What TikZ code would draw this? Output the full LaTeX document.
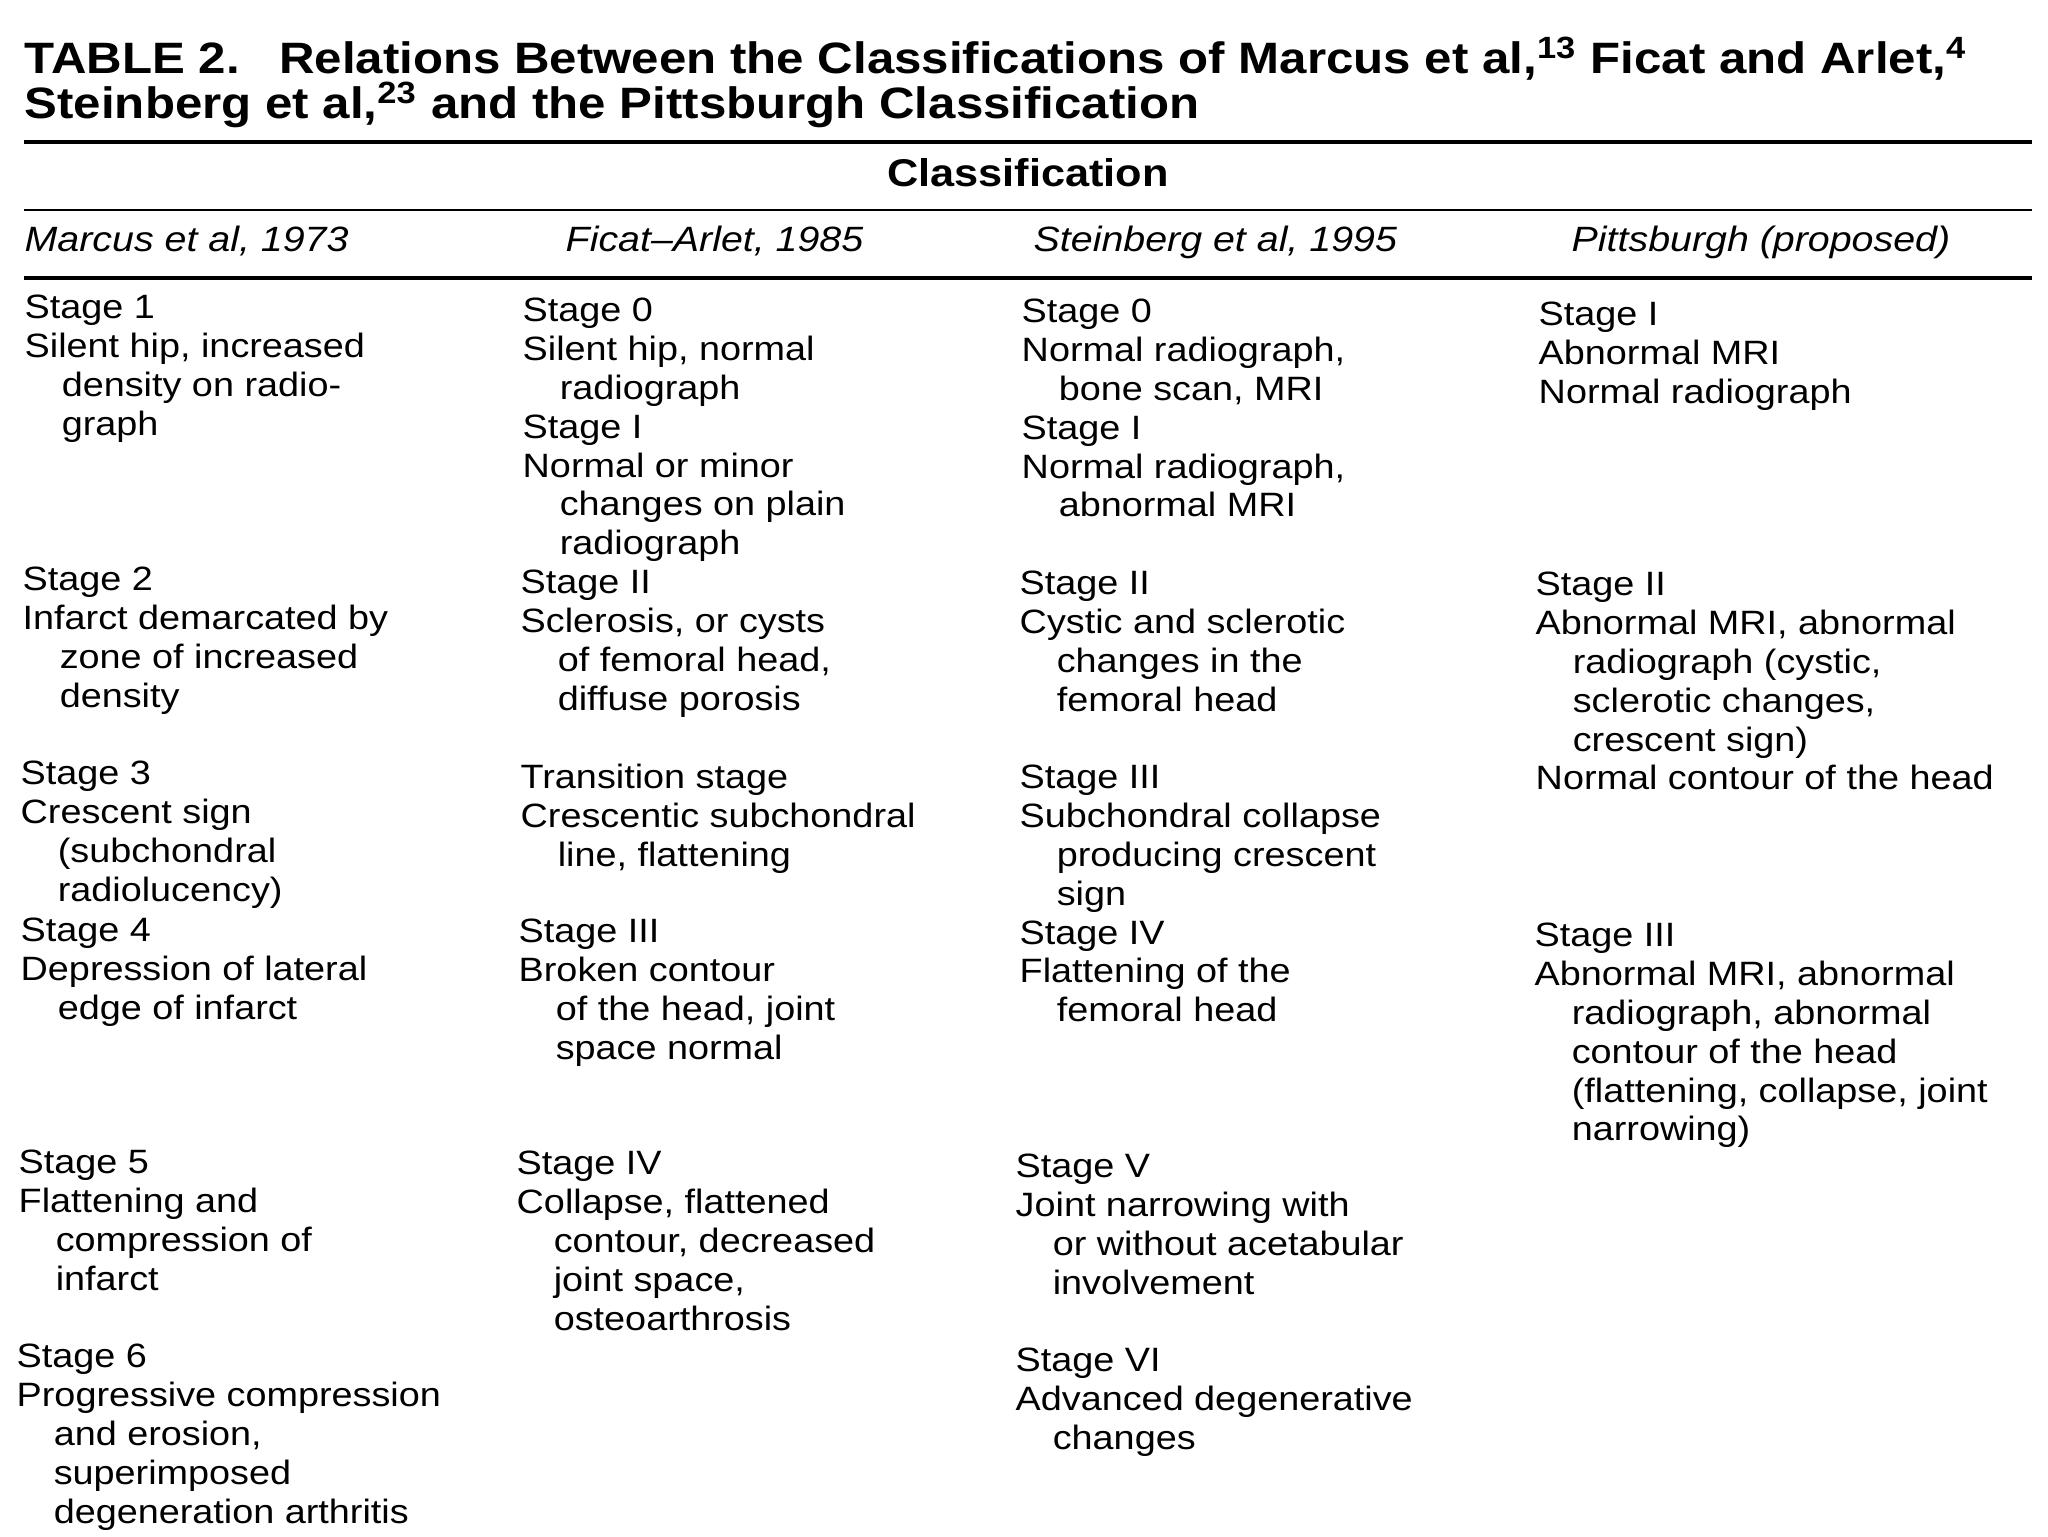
\documentclass[tikz,border=0pt]{standalone}
\usepackage{fontspec}
\setmainfont{Liberation Sans}[FakeStretch=1.12]
\begin{document}
\begin{tikzpicture}[x=0.1mm,y=-0.1mm,
  cell/.style={anchor=north west,inner sep=0pt,align=left,font=\fontsize{9.6pt}{11.05pt}\selectfont,yshift=2.55mm},
  hd/.style={anchor=base west,inner sep=0pt,font=\fontsize{10pt}{12pt}\selectfont\itshape},
  ttl/.style={anchor=north west,inner sep=0pt,align=left,font=\fontsize{12.5pt}{12.9pt}\selectfont\bfseries,yshift=3.2mm}]
\def\I{\hspace*{1.1em}}
\useasboundingbox (0,0) rectangle (2048,1536);
\node[ttl] (title) at (24,68) {TABLE 2.\hspace{0.9em}Relations Between the Classifications of Marcus et al,\textsuperscript{13} Ficat and Arlet,\textsuperscript{4}\\Steinberg et al,\textsuperscript{23} and the Pittsburgh Classification};
\draw[line width=1.4pt] (24,142) -- (2032,142);
\node[hd,font=\fontsize{11pt}{12.8pt}\selectfont\bfseries,anchor=base] (cls) at (1028,186) {Classification};
\draw[line width=0.6pt] (24,210) -- (2032,210);
\node[hd] (h1) at (24,251) {Marcus et al, 1973};
\node[hd] (h2) at (565,251) {Ficat--Arlet, 1985};
\node[hd] (h3) at (1033,251) {Steinberg et al, 1995};
\node[hd] (h4) at (1571,251) {Pittsburgh (proposed)};
\draw[line width=1.4pt] (24,278) -- (2032,278);
% column 1
\node[cell] (a1) at (24,320) {Stage 1\\Silent hip, increased\\\I density on radio-\\\I graph};
\node[cell] (a2) at (22,592) {Stage 2\\Infarct demarcated by\\\I zone of increased\\\I density};
\node[cell] (a3) at (20,786) {Stage 3\\Crescent sign\\\I (subchondral\\\I radiolucency)};
\node[cell] (a4) at (20,943) {Stage 4\\Depression of lateral\\\I edge of infarct};
\node[cell] (a5) at (18,1175) {Stage 5\\Flattening and\\\I compression of\\\I infarct};
\node[cell] (a6) at (16,1369) {Stage 6\\Progressive compression\\\I and erosion,\\\I superimposed\\\I degeneration arthritis};
% column 2
\node[cell] (b1) at (522,323) {Stage 0\\Silent hip, normal\\\I radiograph\\Stage I\\Normal or minor\\\I changes on plain\\\I radiograph};
\node[cell] (b2) at (520,595) {Stage II\\Sclerosis, or cysts\\\I of femoral head,\\\I diffuse porosis};
\node[cell] (b3) at (520,789) {Transition stage\\Crescentic subchondral\\\I line, flattening};
\node[cell] (b4) at (518,944) {Stage III\\Broken contour\\\I of the head, joint\\\I space normal};
\node[cell] (b5) at (516,1176) {Stage IV\\Collapse, flattened\\\I contour, decreased\\\I joint space,\\\I osteoarthrosis};
% column 3
\node[cell] (c1) at (1021,324) {Stage 0\\Normal radiograph,\\\I bone scan, MRI\\Stage I\\Normal radiograph,\\\I abnormal MRI};
\node[cell] (c2) at (1019,596) {Stage II\\Cystic and sclerotic\\\I changes in the\\\I femoral head};
\node[cell] (c3) at (1019,790) {Stage III\\Subchondral collapse\\\I producing crescent\\\I sign\\Stage IV\\Flattening of the\\\I femoral head};
\node[cell] (c5) at (1015,1179) {Stage V\\Joint narrowing with\\\I or without acetabular\\\I involvement};
\node[cell] (c6) at (1015,1373) {Stage VI\\Advanced degenerative\\\I changes};
% column 4
\node[cell] (d1) at (1538,327) {Stage I\\Abnormal MRI\\Normal radiograph};
\node[cell] (d2) at (1535,597) {Stage II\\Abnormal MRI, abnormal\\\I radiograph (cystic,\\\I sclerotic changes,\\\I crescent sign)\\Normal contour of the head};
\node[cell] (d3) at (1534,948) {Stage III\\Abnormal MRI, abnormal\\\I radiograph, abnormal\\\I contour of the head\\\I (flattening, collapse, joint\\\I narrowing)};
\end{tikzpicture}
\end{document}
